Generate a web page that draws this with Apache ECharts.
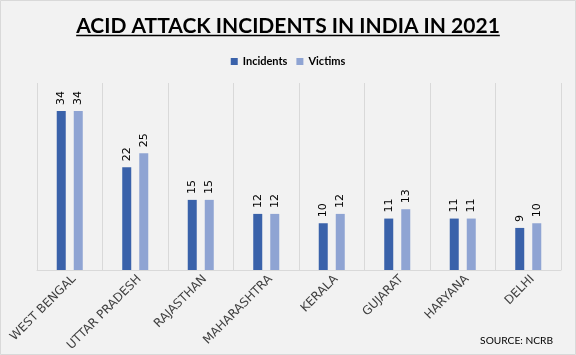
<!DOCTYPE html>
<html>
<head>
<meta charset="utf-8">
<script src="https://cdn.jsdelivr.net/npm/echarts@6/dist/echarts.min.js"></script>
<style>
html,body{margin:0;padding:0;background:#f2f2f2;}
#c{width:576px;height:355px;}
</style>
</head>
<body>
<div id="c"></div>
<script>
const categories = ['WEST BENGAL','UTTAR PRADESH','RAJASTHAN','MAHARASHTRA','KERALA','GUJARAT','HARYANA','DELHI'];
const incidents = [34,22,15,12,10,11,11,9];
const victims = [34,25,15,12,12,13,11,10];
const titleText = 'ACID ATTACK INCIDENTS IN INDIA IN 2021';
const sourceText = 'SOURCE: NCRB';

const titleFont = 'bold 21px Lato';
const cv = document.createElement('canvas').getContext('2d');
cv.font = titleFont;
const tw = cv.measureText(titleText).width;

const chart = echarts.init(document.getElementById('c'), null, {renderer:'canvas'});
const labelCfg = {
  show:true, position:'top', rotate:90, align:'left', verticalAlign:'middle',
  distance:6, color:'#000', fontSize:11, fontFamily:'DejaVu Sans'
};
chart.setOption({
  backgroundColor:'#f2f2f2',
  animation:false,
  title:[
    {text:titleText, left:'center', top:11,
     textStyle:{fontFamily:'Lato', fontWeight:'bold', fontSize:21, color:'#000'}},
    {text:sourceText, right:18, top:331,
     textStyle:{fontFamily:'Lato', fontWeight:'normal', fontSize:10.2, color:'#000'}}
  ],
  legend:{
    top:51, left:'center', itemWidth:7, itemHeight:7, itemGap:9,
    icon:'rect',
    textStyle:{fontFamily:'Lato', fontWeight:'bold', fontSize:11, color:'#000'},
    data:['Incidents','Victims']
  },
  grid:{left:37, right:15, top:83, bottom:85},
  xAxis:{
    type:'category', data:categories,
    axisLine:{lineStyle:{color:'#d9d9d9', width:1}},
    axisTick:{show:false},
    splitLine:{show:true, lineStyle:{color:'#d9d9d9', width:1}},
    axisLabel:{rotate:45, interval:0, color:'#404040', fontSize:12, fontFamily:'DejaVu Sans',
               margin:3, verticalAlign:'top'}
  },
  yAxis:{
    type:'value', min:0, max:40, interval:10,
    show:false, splitLine:{show:false}
  },
  series:[
    {name:'Incidents', type:'bar', data:incidents, barWidth:9, barGap:'89%',
     itemStyle:{color:'#3a62aa'}, label:labelCfg},
    {name:'Victims', type:'bar', data:victims, barWidth:9,
     itemStyle:{color:'#8fa4d3'}, label:labelCfg}
  ],
  graphic:[
    {type:'line', shape:{x1:288-tw/2, y1:35.5, x2:288+tw/2, y2:35.5},
     style:{stroke:'#000', lineWidth:1.5}},
    {type:'rect', shape:{x:0.5, y:0.5, width:575, height:354},
     style:{fill:null, stroke:'#d9d9d9', lineWidth:1}}
  ]
});
</script>
</body>
</html>
